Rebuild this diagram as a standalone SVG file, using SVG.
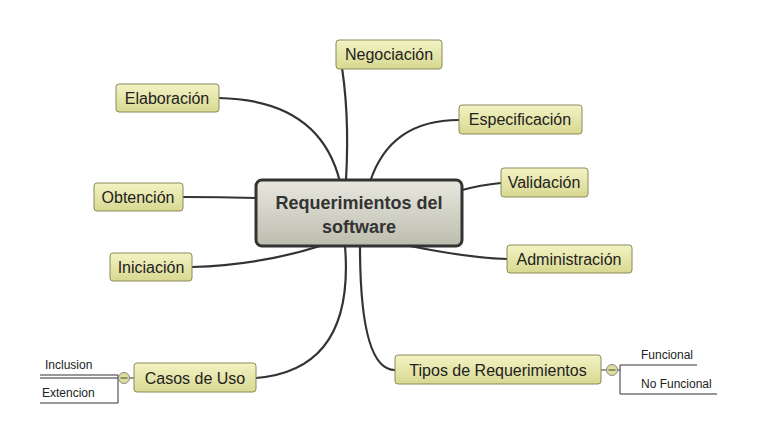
<svg xmlns="http://www.w3.org/2000/svg" width="758" height="443" viewBox="0 0 758 443">
<defs>
<linearGradient id="g" x1="0" y1="0" x2="0" y2="1"><stop offset="0" stop-color="#f3f3c4"/><stop offset="1" stop-color="#d8d891"/></linearGradient>
<linearGradient id="c" x1="0" y1="0" x2="0" y2="1"><stop offset="0" stop-color="#e8e8df"/><stop offset="1" stop-color="#bcbcae"/></linearGradient>
</defs>
<style>
.n{fill:url(#g);stroke:#8a8a5a;stroke-width:1}
.t{font-family:"Liberation Sans",Arial,sans-serif;font-size:16px;fill:#222}
.s{font-family:"Liberation Sans",Arial,sans-serif;font-size:12px;fill:#222}
.l{fill:none;stroke:#333;stroke-width:2.2}
.th{fill:none;stroke:#333;stroke-width:1}
</style>
<rect width="758" height="443" fill="#fff"/>
<g id="connectors">
<path class="l" d="M346 180 Q350 110 340 56" stroke-width="3.5"/>
<path class="l" d="M340 182 Q320 100 219 98"/>
<path class="l" d="M370 182 Q390 120 459 120"/>
<path class="l" d="M462 190 Q480 185 501 183"/>
<path class="l" d="M256 198 Q220 197 183 197"/>
<path class="l" d="M410 246 Q470 258 507 259"/>
<path class="l" d="M320 246 Q260 265 192 267"/>
<path class="l" d="M345 246 Q355 370 256 378"/>
<path class="l" d="M360 246 Q360 370 395 370"/>
<path class="th" d="M118 378 H40 M40 375 H118 V403 H40"/>
<path class="th" d="M620 370 V394 H717 M620 365 H697 M620 365 V370"/>
<path class="th" d="M129 378 H134 M601 370 H607 M617 370 H620"/>
</g>
<g id="central"><rect x="256" y="180" width="206" height="66" rx="6" fill="url(#c)" stroke="#333" stroke-width="3"/>
<text x="359" y="209" text-anchor="middle" font-family="Liberation Sans,Arial,sans-serif" font-size="18" font-weight="bold" fill="#333">Requerimientos del</text>
<text x="359" y="233" text-anchor="middle" font-family="Liberation Sans,Arial,sans-serif" font-size="18" font-weight="bold" fill="#333">software</text></g>
<g id="negociacion"><rect class="n" x="336" y="40" width="106" height="29" rx="3"/><text class="t" x="389" y="60" text-anchor="middle">Negociación</text></g>
<g id="elaboracion"><rect class="n" x="116" y="84" width="103" height="28" rx="3"/><text class="t" x="167" y="104" text-anchor="middle">Elaboración</text></g>
<g id="especificacion"><rect class="n" x="459" y="105" width="123" height="29" rx="3"/><text class="t" x="520" y="125" text-anchor="middle">Especificación</text></g>
<g id="validacion"><rect class="n" x="501" y="168" width="87" height="29" rx="3"/><text class="t" x="544" y="188" text-anchor="middle">Validación</text></g>
<g id="obtencion"><rect class="n" x="94" y="183" width="89" height="28" rx="3"/><text class="t" x="138" y="203" text-anchor="middle">Obtención</text></g>
<g id="administracion"><rect class="n" x="507" y="245" width="125" height="28" rx="3"/><text class="t" x="569" y="265" text-anchor="middle">Administración</text></g>
<g id="iniciacion"><rect class="n" x="110" y="253" width="82" height="28" rx="3"/><text class="t" x="151" y="273" text-anchor="middle">Iniciación</text></g>
<g id="casos"><rect class="n" x="134" y="363" width="122" height="29" rx="3"/><text class="t" x="195" y="384" text-anchor="middle">Casos de Uso</text>
<circle cx="124" cy="378" r="5.5" fill="#dede9a" stroke="#888"/><path d="M120.5 378 H127.5" stroke="#444"/>
<text class="s" x="45" y="369">Inclusion</text><text class="s" x="42" y="397">Extencion</text></g>
<g id="tipos"><rect class="n" x="395" y="355" width="206" height="29" rx="3"/><text class="t" x="498" y="376" text-anchor="middle">Tipos de Requerimientos</text>
<circle cx="612" cy="370" r="5.5" fill="#dede9a" stroke="#888"/><path d="M608.5 370 H615.5" stroke="#444"/>
<text class="s" x="641" y="359">Funcional</text><text class="s" x="641" y="388">No Funcional</text></g>
</svg>
